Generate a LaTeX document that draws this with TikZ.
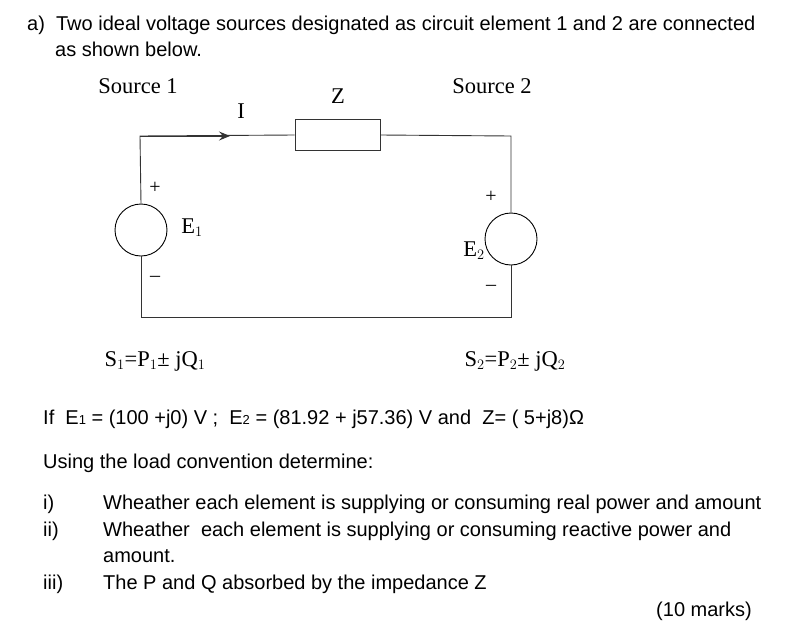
\documentclass[tikz,border=0pt]{standalone}
\usepackage{fontspec}
\setmainfont{Liberation Sans}
\newfontfamily\circfont{Liberation Serif}
\usetikzlibrary{arrows.meta}
\tikzset{
  txt/.style = {anchor=base west, inner sep=0pt, font=\fontsize{20}{24}\selectfont},
  lbl/.style = {inner sep=0pt, font=\circfont\fontsize{22.5}{26}\selectfont},
  sgn/.style = {inner sep=0pt, font=\circfont\fontsize{20}{24}\selectfont},
  wire/.style = {draw=black!80, line width=0.9pt},
  src/.style = {circle, draw=black, line width=0.9pt, minimum size=52pt, inner sep=0pt},
  imp/.style = {rectangle, draw=black!80, line width=0.9pt, minimum width=85pt, minimum height=31pt, inner sep=0pt}
}
\newcommand{\sbs}[1]{{\fontsize{13}{15}\selectfont #1}}
\begin{document}
\begin{tikzpicture}[x=1pt,y=-1pt]
  \useasboundingbox (0,0) rectangle (812,635);
  % question text
  \node [txt] (qa) at (27,30) {a)\ \ Two ideal voltage sources designated as circuit element 1 and 2 are connected};
  \node [txt] (qb) at (55,56) {as shown below.};
  % circuit
  \node [src] (s1) at (141,230) {};
  \node [src] (s2) at (511,239) {};
  \node [imp] (z) at (337.5,135) {};
  \coordinate (tl) at (140,136);
  \coordinate (tr) at (511,136);
  \coordinate (bl) at (141,317);
  \coordinate (br) at (511,317);
  \draw [wire] (s1.north) -- (tl) -- (z.west);
  \draw [wire] (z.east) -- (tr) -- (s2.north);
  \draw [wire] (s2.south) -- (br) -- (bl) -- (s1.south);
  \draw [wire, -{Stealth[length=11pt,width=9pt,inset=4pt]}] (tl) -- (230,136);
  \node [lbl] (src1) at (138,86) {Source 1};
  \node [lbl] (src2) at (492,86) {Source 2};
  \node [lbl] (zl) at (338,96) {Z};
  \node [lbl] (il) at (241,111) {I};
  \node [lbl] (e1) at (192,228) {E$_1$};
  \node [lbl] (e2) at (474,251) {E$_2$};
  \node [sgn] (p1) at (155,188) {+};
  \node [sgn] (m1) at (155,279) {\textendash};
  \node [sgn] (p2) at (491,197) {+};
  \node [sgn] (m2) at (491,288) {\textendash};
  \node [lbl] (S1) at (155,361) {S$_1$=P$_1$± jQ$_1$};
  \node [lbl] (S2) at (515,361) {S$_2$=P$_2$± jQ$_2$};
  % data and tasks
  \node [txt] (qc) at (43,424) {If\ \ E\sbs{1} = (100 +j0) V ;\ \ E\sbs{2} = (81.92 + j57.36) V and\ \ Z= ( 5+j8)Ω};
  \node [txt] (qd) at (43,468) {Using the load convention determine:};
  \node [txt] (t1) at (43,509) {i)};
  \node [txt] (t1b) at (103,509) {Wheather each element is supplying or consuming real power and amount};
  \node [txt] (t2) at (43,536) {ii)};
  \node [txt] (t2b) at (103,536) {Wheather\ \ each element is supplying or consuming reactive power and};
  \node [txt] (t2c) at (103,562) {amount.};
  \node [txt] (t3) at (43,589) {iii)};
  \node [txt] (t3b) at (103,589) {The P and Q absorbed by the impedance Z};
  \node [txt, anchor=base east] (mk) at (752,616) {(10 marks)};
\end{tikzpicture}
\end{document}
